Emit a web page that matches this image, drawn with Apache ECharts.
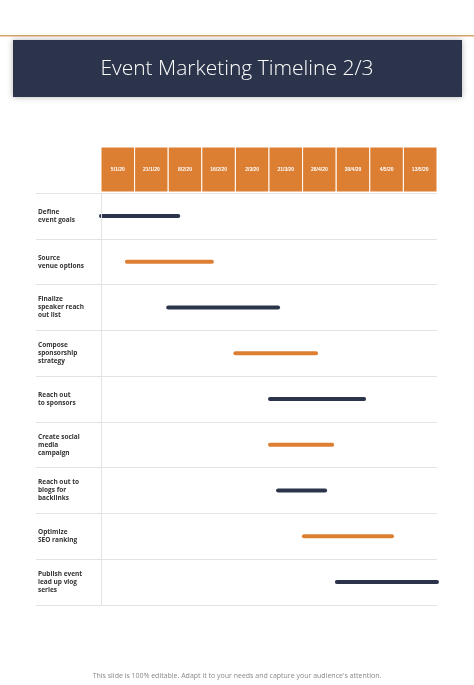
<!DOCTYPE html><html><head><meta charset="utf-8"><script src="https://cdn.jsdelivr.net/npm/echarts@6/dist/echarts.min.js"></script>
<style>html,body{margin:0;padding:0;background:#fff}#c{width:474px;height:685px}</style></head><body><div id="c"></div>
<script>
const dateLabels=['5/1/20','21/1/20','8/2/20','16/2/20','2/3/20','21/3/20','28/4/20','30/4/20','4/5/20','13/5/20'];
const tasks=['Define\nevent goals','Source\nvenue options','Finalize\nspeaker reach\nout list','Compose\nsponsorship\nstrategy','Reach out\nto sponsors','Create social\nmedia\ncampaign','Reach out to\nblogs for\nbacklinks','Optimize\nSEO ranking','Publish event\nlead up vlog\nseries'];
const starts=[0,0.77,2.0,4.0,5.03,5.03,5.27,6.04,7.02];
const ends=[2.3,3.3,5.27,6.4,7.83,6.88,6.67,8.66,10];
const NAVY='#2b344a',ORANGE='#dd7f33';
const chart=echarts.init(document.getElementById('c'));
const XMIN=-(101-36)/33.6;
chart.setOption({
 animation:false,
 graphic:[
  {type:'rect',shape:{x:0,y:35,width:474,height:1.5},style:{fill:'#d6a56e'}},
  {type:'rect',shape:{x:13,y:40,width:449,height:57},style:{fill:NAVY,shadowBlur:6,shadowColor:'rgba(0,0,0,0.3)'}},
  {type:'text',x:237,y:69,style:{text:'Event Marketing Timeline 2/3',fill:'#fff',font:'300 21px "Open Sans", sans-serif',align:'center',verticalAlign:'middle'}},
  {type:'text',x:237,y:676,style:{text:"This slide is 100% editable. Adapt it to your needs and capture your audience's attention.",fill:'#888',font:'7px "Open Sans", sans-serif',align:'center',verticalAlign:'middle'}}
 ],
 grid:[{left:36,right:37,top:193,height:412},{left:101,right:37,top:147,height:45}],
 xAxis:[
  {gridIndex:0,type:'value',min:XMIN,max:10,show:false},
  {gridIndex:1,type:'value',min:0,max:10,show:false}
 ],
 yAxis:[
  {gridIndex:0,type:'category',data:tasks,inverse:true,axisLine:{show:false},axisTick:{show:false},
   splitLine:{show:true,interval:0,lineStyle:{color:'#e3e3e3'}},
   axisLabel:{inside:true,margin:2,align:'left',fontSize:6.5,fontWeight:'bold',color:'#333',lineHeight:8,interval:0,fontFamily:'Open Sans'}},
  {gridIndex:1,type:'value',min:0,max:1,show:false}
 ],
 series:[
  {type:'custom',xAxisIndex:0,yAxisIndex:0,data:tasks.map((t,i)=>[starts[i],ends[i],i]),
   renderItem:(p,api)=>{const a=api.coord([api.value(0),api.value(2)]),b=api.coord([api.value(1),api.value(2)]);
    return {type:'line',shape:{x1:a[0],y1:a[1],x2:b[0],y2:b[1]},style:{stroke:api.value(2)%2?ORANGE:NAVY,lineWidth:4,lineCap:'round'}};},
   markLine:{silent:true,symbol:'none',label:{show:false},lineStyle:{color:'#e3e3e3',type:'solid',width:1},data:[{xAxis:0}]}},
  {type:'custom',xAxisIndex:1,yAxisIndex:1,data:dateLabels.map((d,i)=>[i,d]),
   renderItem:(p,api)=>{const i=api.value(0);const a=api.coord([i,1]),b=api.coord([i+1,0]);
    return {type:'group',children:[{type:'rect',shape:{x:a[0],y:a[1],width:b[0]-a[0],height:b[1]-a[1]},style:{fill:ORANGE,stroke:'#fff',lineWidth:1}},
     {type:'text',x:(a[0]+b[0])/2,y:(a[1]+b[1])/2,style:{text:dateLabels[i],fill:'#fff',font:'bold 5px sans-serif',align:'center',verticalAlign:'middle'}}]};}}
 ]
});
</script></body></html>
